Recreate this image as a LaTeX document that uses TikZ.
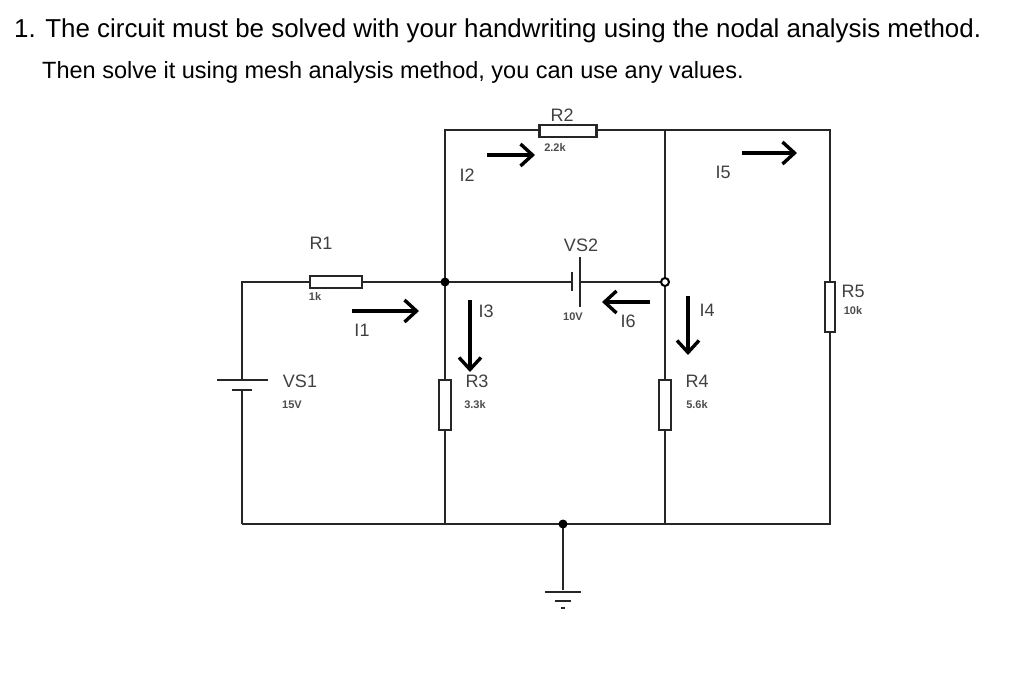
\documentclass[tikz,border=0pt]{standalone}
\usepackage{fontspec}
\setmainfont{Liberation Sans}
\usetikzlibrary{arrows.meta}
\begin{document}
\begin{tikzpicture}[x=1pt,y=-1pt,
  wire/.style={line width=2.6pt,color=black!85},
  res/.style={draw=black!85,line width=2.2pt,fill=white,minimum width=0pt,inner sep=0pt},
  cur/.style={line width=3.4pt,-{Straight Barb[length=12pt,width=22pt,line width=3.4pt]}},
  lbl/.style={inner sep=0pt,font=\fontsize{18}{18}\selectfont,text=black!75},
  val/.style={inner sep=0pt,font=\bfseries\fontsize{11}{11}\selectfont,text=black!70},
  dot/.style={circle,fill,inner sep=0pt,minimum size=9pt}]
\useasboundingbox (0,0) rectangle (1024,679);
\node[anchor=west,inner sep=0pt,font=\fontsize{25.9}{26}\selectfont] (t1) at (14,31) {1. The circuit must be solved with your handwriting using the nodal analysis method.};
\node[anchor=west,inner sep=0pt,font=\fontsize{23.5}{24}\selectfont] (t2) at (42,72) {Then solve it using mesh analysis method, you can use any values.};
% coordinates
\coordinate (TL) at (242,282);
\coordinate (BL) at (242,524);
\coordinate (A) at (445,282);
\coordinate (B) at (665,282);
\coordinate (AT) at (445,130);
\coordinate (RT) at (830,130);
\coordinate (RB) at (830,524);
\coordinate (AB) at (445,524);
\coordinate (BB) at (665,524);
\coordinate (G) at (563,524);
\coordinate (G2) at (563,590);
% wires
\draw[wire] (BL) -- (242,390) (242,380) -- (TL) -- (A) -- (572,282) (580,282) -- (B);
\draw[wire] (A) -- (AT) -- (RT) -- (RB) -- (BL);
\draw[wire] (A) -- (AB);
\draw[wire] (B) -- (665,130);
\draw[wire] (B) -- (BB);
\draw[wire] (G) -- (G2);
% sources
\draw[wire] (217,380) -- (268,380);
\draw[wire] (232,390) -- (252,390);
\draw[wire] (572,272) -- (572,291);
\draw[wire] (580,257) -- (580,307);
% ground
\draw[wire] (545,592) -- (581,592);
\draw[wire] (555,601) -- (571,601);
\draw[wire] (561,608) -- (565,608);
% resistors
\node[res,minimum width=52pt,minimum height=12pt] (R1) at (336,282) {};
\node[res,minimum width=57pt,minimum height=12pt] (R2) at (568,131) {};
\node[res,minimum width=12pt,minimum height=50pt] (R3) at (445,405) {};
\node[res,minimum width=12pt,minimum height=50pt] (R4) at (665,405) {};
\node[res,minimum width=10pt,minimum height=50pt] (R5) at (830,307) {};
% dots
\node[dot] (dA) at (A) {};
\node[dot] (dG) at (G) {};
\node[circle,draw,fill=white,line width=2pt,inner sep=0pt,minimum size=8pt] (dB) at (B) {};
% labels
\node[lbl] (lR1) at (321,243) {R1};
\node[val] (v1) at (315,297) {1k};
\node[lbl] (lR2) at (562,115) {R2};
\node[val] (v2) at (555,148) {2.2k};
\node[lbl] (lVS2) at (581,245) {VS2};
\node[val] (v3) at (573,317) {10V};
\node[lbl] (lVS1) at (300,381) {VS1};
\node[val] (v4) at (292,405) {15V};
\node[lbl] (lR3) at (477,381) {R3};
\node[val] (v5) at (475,405) {3.3k};
\node[lbl] (lR4) at (697,381) {R4};
\node[val] (v6) at (697,405) {5.6k};
\node[lbl] (lR5) at (853,291) {R5};
\node[val] (v7) at (853,311) {10k};
% currents
\coordinate (c1a) at (352,311); \coordinate (c1b) at (419,311);
\draw[cur] (c1a) -- (c1b);
\node[lbl] (lI1) at (362,330) {I1};
\coordinate (c2a) at (487,155); \coordinate (c2b) at (535,155);
\draw[cur] (c2a) -- (c2b);
\node[lbl] (lI2) at (467,175) {I2};
\coordinate (c5a) at (742,153); \coordinate (c5b) at (797,153);
\draw[cur] (c5a) -- (c5b);
\node[lbl] (lI5) at (723,172) {I5};
\coordinate (c3a) at (470,300); \coordinate (c3b) at (470,372);
\draw[cur] (c3a) -- (c3b);
\node[lbl] (lI3) at (486,311) {I3};
\coordinate (c6a) at (650,302); \coordinate (c6b) at (602,302);
\draw[cur] (c6a) -- (c6b);
\node[lbl] (lI6) at (628,321) {I6};
\coordinate (c4a) at (688,296); \coordinate (c4b) at (688,355);
\draw[cur] (c4a) -- (c4b);
\node[lbl] (lI4) at (707,310) {I4};
\end{tikzpicture}
\end{document}
